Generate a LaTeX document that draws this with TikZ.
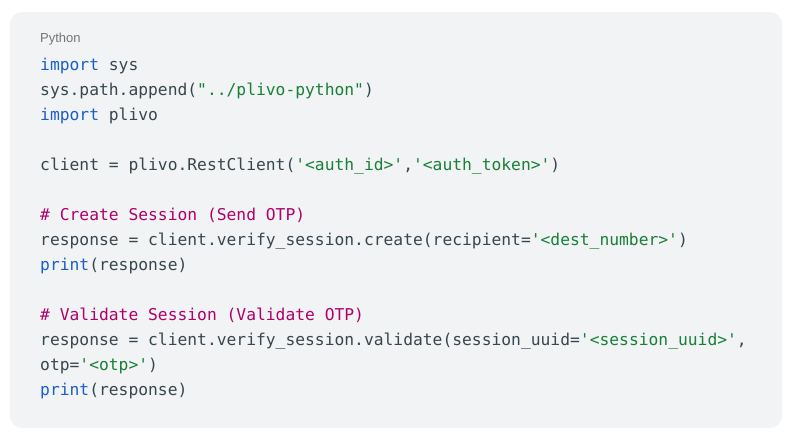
\documentclass[tikz,border=0pt]{standalone}
\usepackage{fontspec}
\setmainfont{Liberation Sans}
\newfontfamily\code{DejaVu Sans Mono}
\definecolor{bgc}{HTML}{F1F3F4}
\definecolor{txt}{HTML}{37474F}
\definecolor{kw}{HTML}{1A5FC8}
\definecolor{str}{HTML}{188038}
\definecolor{cmt}{HTML}{B0006A}
\definecolor{lbl}{HTML}{757575}
\newcommand{\K}[1]{\textcolor{kw}{#1}}
\newcommand{\St}[1]{\textcolor{str}{#1}}
\newcommand{\Cm}[1]{\textcolor{cmt}{#1}}
\begin{document}
\begin{tikzpicture}[x=1pt,y=-1pt,
  ln/.style={anchor=base west,inner sep=0pt,font=\code\fontsize{16.3}{18}\selectfont,text=txt}]
\useasboundingbox (0,0) rectangle (800,445);
\fill[bgc,rounded corners=12pt] (10,12) rectangle (782,428);
\node[anchor=base west,inner sep=0pt,font=\fontsize{13}{15}\selectfont,text=lbl] (lang) at (40,42) {Python};
\node[ln] (l1) at (40,70) {\K{import} sys};
\node[ln] (l2) at (40,95) {sys.path.append(\St{"../plivo-python"})};
\node[ln] (l3) at (40,120) {\K{import} plivo};
\node[ln] (l5) at (40,170) {client = plivo.RestClient(\St{'<auth\_id>'},\St{'<auth\_token>'})};
\node[ln] (l7) at (40,220) {\Cm{\# Create Session (Send OTP)}};
\node[ln] (l8) at (40,245) {response = client.verify\_session.create(recipient=\St{'<dest\_number>'})};
\node[ln] (l9) at (40,270) {\K{print}(response)};
\node[ln] (l11) at (40,320) {\Cm{\# Validate Session (Validate OTP)}};
\node[ln] (l12) at (40,345) {response = client.verify\_session.validate(session\_uuid=\St{'<session\_uuid>'},};
\node[ln] (l13) at (40,370) {otp=\St{'<otp>'})};
\node[ln] (l14) at (40,395) {\K{print}(response)};
\end{tikzpicture}
\end{document}
